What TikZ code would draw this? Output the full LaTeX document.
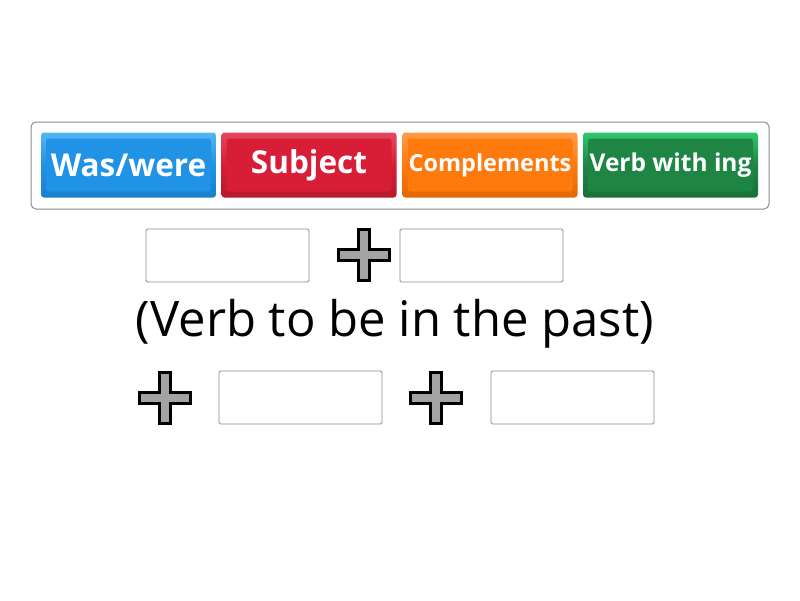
\documentclass[tikz,border=0pt]{standalone}
\usepackage{fontspec}
\setmainfont{Open Sans}
\definecolor{bluemain}{HTML}{2093E6}
\definecolor{bluelight}{HTML}{55B3F0}
\definecolor{bluedark}{HTML}{1A7FCC}
\definecolor{redmain}{HTML}{D81E36}
\definecolor{redlight}{HTML}{E3485C}
\definecolor{reddark}{HTML}{B51A2D}
\definecolor{orangemain}{HTML}{FF7A0D}
\definecolor{orangelight}{HTML}{FF9C48}
\definecolor{orangedark}{HTML}{E06805}
\definecolor{greenmain}{HTML}{1F8544}
\definecolor{greenlight}{HTML}{2FC86C}
\definecolor{greendark}{HTML}{1A7039}
\definecolor{framegray}{HTML}{8C8C8C}
\definecolor{plusgray}{HTML}{A3A3A3}
\begin{document}
\begin{tikzpicture}[x=1pt,y=-1pt]
\useasboundingbox[fill=white] (0,0) rectangle (800,600);
\tikzset{
  btn/.style n args={3}{top color=#2, bottom color=#3, middle color=#1,
    rounded corners=3pt,
    minimum width=175pt, minimum height=65pt, inner sep=0pt,
    text=white,
    path picture={\fill[#1] ([xshift=5pt,yshift=-6pt]path picture bounding box.north west)
      rectangle ([xshift=-5pt,yshift=6pt]path picture bounding box.south east);}},
  answerbox/.style={draw=framegray, line width=0.8pt, rounded corners=1.5pt,
    fill=white, minimum width=163pt, minimum height=53pt, inner sep=0pt},
  tray/.style={draw=framegray, line width=1pt, rounded corners=5pt,
    minimum width=738pt, minimum height=87pt, inner sep=0pt},
  plussign/.pic={
    \path[draw=black, fill=plusgray, line width=3pt, line join=miter]
      (-25.5,-5.5) -- (-5.5,-5.5) -- (-5.5,-25.5) -- (5.5,-25.5) -- (5.5,-5.5)
      -- (25.5,-5.5) -- (25.5,5.5) -- (5.5,5.5) -- (5.5,25.5) -- (-5.5,25.5)
      -- (-5.5,5.5) -- (-25.5,5.5) -- cycle;
  }
}
% tray
\node[tray] (tray) at (400,165.5) {};
% buttons
\node[btn={bluemain}{bluelight}{bluedark}, font=\bfseries\fontsize{31.5}{36}\selectfont] (waswere) at (128.5,165) {Was/were};
\node[btn={redmain}{redlight}{reddark}, font=\bfseries\fontsize{31.5}{36}\selectfont] (subject) at (309,165) {Subject};
\node[btn={orangemain}{orangelight}{orangedark}, font=\bfseries\fontsize{23.5}{28}\selectfont] (complements) at (490,165) {Complements};
\node[btn={greenmain}{greenlight}{greendark}, font=\bfseries\fontsize{24.5}{28}\selectfont] (verbing) at (670.5,165) {Verb with ing};
% row 1
\node[answerbox] (box1) at (227.5,255.5) {};
\pic (plus1) at (363.5,255) {plussign};
\node[answerbox] (box2) at (481.5,255.5) {};
% sentence
\node[font=\fontsize{49}{56}\selectfont, inner sep=0pt] (sentence) at (395,324) {(Verb to be in the past)};
% row 2
\pic (plus2) at (165,398) {plussign};
\node[answerbox] (box3) at (300.5,397.5) {};
\pic (plus3) at (436,398) {plussign};
\node[answerbox] (box4) at (572.5,397.5) {};
\end{tikzpicture}
\end{document}
